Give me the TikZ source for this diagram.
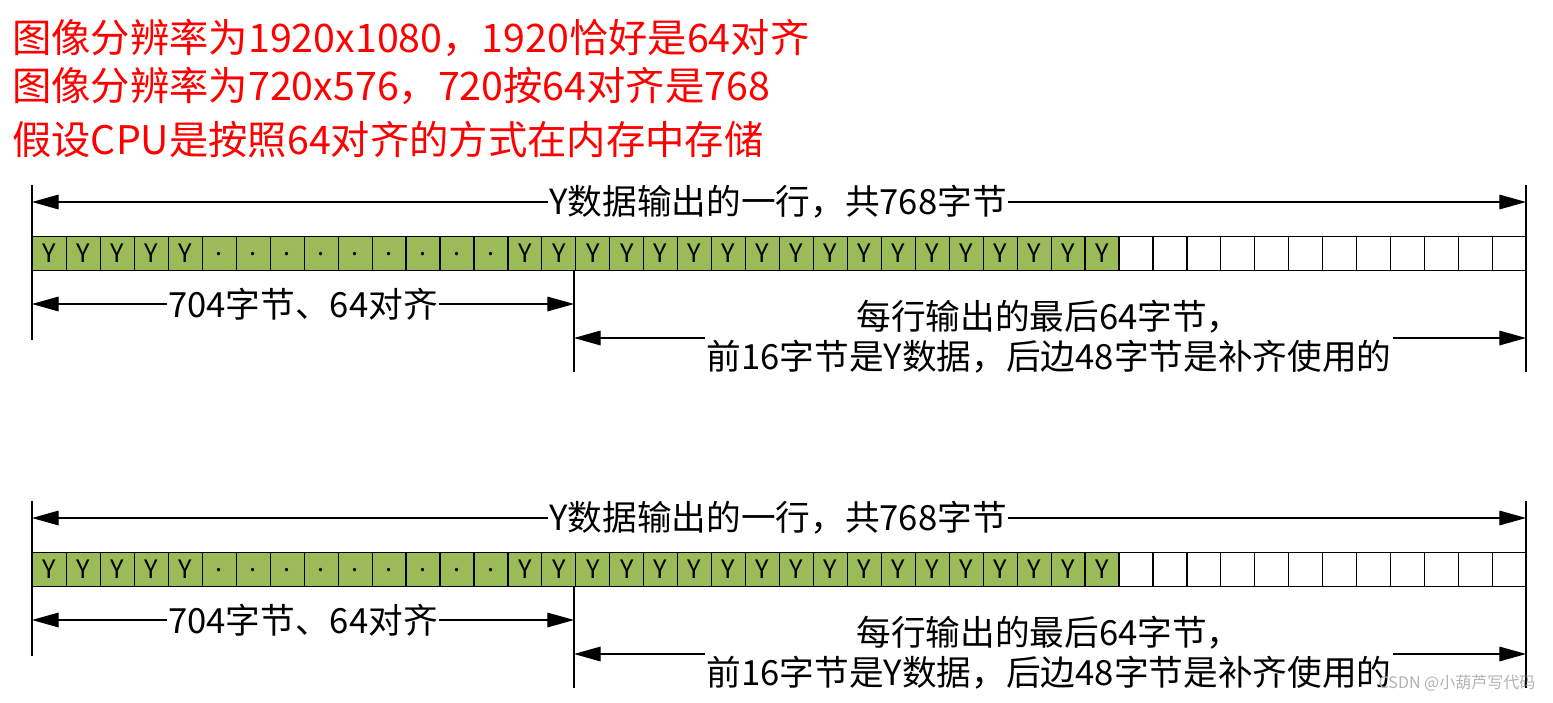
\documentclass[tikz,border=0pt]{standalone}
\usepackage{fontspec}
\setmainfont{Noto Sans CJK SC}
\usetikzlibrary{arrows.meta}
\definecolor{cellgreen}{HTML}{9BBB59}
\begin{document}
\begin{tikzpicture}[x=0.75pt,y=-0.75pt,
  red/.style={anchor=west,text=red,font=\fontsize{29.5}{32}\selectfont,inner sep=0},
  lbl/.style={font=\fontsize{26}{30}\selectfont,fill=white,inner sep=1pt},
  dim/.style={{Triangle[length=20pt,width=11pt]}-{Triangle[length=20pt,width=11pt]},line width=0.9pt},
  tick/.style={line width=0.9pt},
  cell/.style={draw,line width=0.9pt,minimum width=33.95*0.75pt,minimum height=34*0.75pt,inner sep=0,font=\fontsize{19}{20}\selectfont,anchor=north west}]
\useasboundingbox (0,0) rectangle (1553,703);
\node[red] (t1) at (12,38) {图像分辨率为1920x1080，1920恰好是64对齐};
\node[red] (t2) at (12,86) {图像分辨率为720x576，720按64对齐是768};
\node[red] (t3) at (12,140) {假设CPU是按照64对齐的方式在内存中存储};
\foreach \r/\dy in {a/0,b/316}{
  \begin{scope}[yshift=-\dy*0.75pt]
  \foreach \i in {0,...,43}{
    \ifnum\i<32
      \ifnum\i>4 \ifnum\i<14 \def\txt{.}\else\def\txt{Y}\fi\else\def\txt{Y}\fi
      \node[cell,fill=cellgreen] (\r c\i) at ({32+\i*33.95},236) {\txt};
    \else
      \node[cell,fill=white] (\r c\i) at ({32+\i*33.95},236) {};
    \fi
  }
  \coordinate (\r L1) at (32,185); \coordinate (\r L2) at (32,340);
  \coordinate (\r R1) at (1526,185); \coordinate (\r R2) at (1526,372);
  \coordinate (\r M1) at (574,270); \coordinate (\r M2) at (574,372);
  \draw[tick] (\r L1) -- (\r L2);
  \draw[tick] (\r R1) -- (\r R2);
  \draw[tick] (\r M1) -- (\r M2);
  \coordinate (\r a1) at (32,202); \coordinate (\r a2) at (1526,202);
  \draw[dim] (\r a1) -- (\r a2);
  \node[lbl] (\r n1) at (778,202) {Y数据输出的一行，共768字节};
  \coordinate (\r b1) at (32,304); \coordinate (\r b2) at (574,304);
  \draw[dim] (\r b1) -- (\r b2);
  \node[lbl] (\r n2) at (303,304) {704字节、64对齐};
  \coordinate (\r c1) at (574,338); \coordinate (\r c2) at (1526,338);
  \draw[dim] (\r c1) -- (\r c2);
  \node[lbl,align=center] (\r n3) at (1049,337) {每行输出的最后64字节，\\前16字节是Y数据，后边48字节是补齐使用的};
  \end{scope}
}
\node[text=gray!60,font=\fontsize{12}{14}\selectfont,anchor=east] (wm) at (1540,683) {CSDN @小葫芦写代码};
\end{tikzpicture}
\end{document}
